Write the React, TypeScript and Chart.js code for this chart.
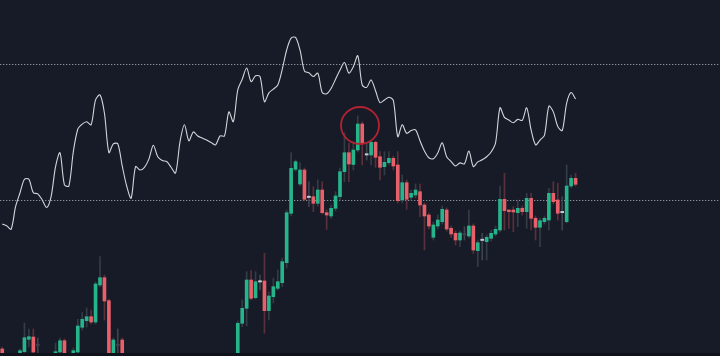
import React, { useEffect, useRef } from "react";
import { Chart, registerables } from "chart.js";

Chart.register(...registerables);

// Candles (price) — index 0..129
const OPEN = [
  26510, 26420, 26340, 26360, 26420, 26483, 26607, 26630, 26545, 26420,
  26320, 26250, 26420, 26480, 26593, 26420, 26340, 26480, 26727, 26793,
  26833, 26780, 27150, 27223, 26993, 26380, 26545, 26600, 26300, 26200,
  26080, 26160, 26020, 25900, 26000, 25820, 25750, 25880, 25720, 25640,
  25800, 25900, 25780, 25960, 26040, 25920, 26080, 26160, 26060, 26220,
  26280, 26200, 26320, 26300, 26767, 26917, 27200, 27023, 27180, 27190,
  26893, 27033, 27117, 27173, 27373, 27867, 28307, 28160, 28300, 28025,
  28033, 27967, 28100, 27873, 27840, 27917, 28033, 28283, 28473, 28355,
  28500, 28760, 28450, 28450, 28577, 28433, 28333, 28373, 28417, 28350,
  28000, 28173, 28027, 28050, 28083, 27950, 27850, 27627, 27740, 27783,
  27900, 27717, 27667, 27600, 27650, 27640, 27740, 27493, 27595, 27583,
  27617, 27660, 27700, 28007, 27900, 27900, 27873, 27917, 27883, 28017,
  27817, 27727, 27783, 27800, 28067, 28000, 27873, 27783, 28140, 28217,
];
const HIGH = [
  26530, 26440, 26420, 26435, 26510, 26770, 26710, 26710, 26620, 26450,
  26340, 26430, 26570, 26620, 26610, 26430, 26520, 26807, 26873, 26920,
  26900, 27180, 27433, 27250, 27010, 26620, 26710, 26620, 26330, 26230,
  26190, 26190, 26040, 26030, 26030, 25840, 25900, 25900, 25740, 25820,
  25930, 25920, 25980, 26070, 26060, 26100, 26190, 26180, 26240, 26310,
  26300, 26340, 26350, 26790, 27000, 27283, 27293, 27283, 27250, 27467,
  27080, 27220, 27300, 27420, 27900, 28473, 28400, 28373, 28320, 28183,
  28133, 28200, 28183, 27900, 27950, 28083, 28320, 28673, 28567, 28583,
  28840, 28783, 28570, 28600, 28590, 28483, 28483, 28483, 28440, 28483,
  28250, 28200, 28100, 28160, 28160, 27970, 27870, 27780, 27850, 27940,
  27920, 27740, 27690, 27690, 27733, 27900, 27760, 27600, 27667, 27650,
  27700, 27740, 28140, 28267, 27900, 27933, 28000, 27940, 28067, 28067,
  27840, 27820, 27840, 28117, 28183, 28167, 28033, 28350, 28250, 28267,
];
const LOW = [
  26420, 26320, 26310, 26330, 26380, 26450, 26530, 26400, 26420, 26280,
  26220, 26220, 26380, 26440, 26380, 26300, 26300, 26450, 26700, 26730,
  26760, 26760, 27130, 26800, 26340, 26340, 26420, 26260, 26170, 26050,
  26050, 25990, 25870, 25880, 25790, 25720, 25730, 25690, 25610, 25620,
  25780, 25760, 25750, 25940, 25900, 25890, 26060, 26040, 26030, 26200,
  26180, 26170, 26270, 26280, 26733, 26740, 27000, 27010, 27100, 26667,
  26800, 26970, 27100, 27133, 27320, 27840, 28290, 28140, 27990, 27933,
  27883, 27940, 27860, 27707, 27817, 27890, 28000, 28183, 28183, 28300,
  28480, 28350, 28400, 28350, 28327, 28200, 28250, 28350, 28300, 27970,
  27970, 27907, 28000, 28020, 27833, 27500, 27710, 27600, 27710, 27760,
  27690, 27627, 27550, 27533, 27600, 27620, 27467, 27333, 27400, 27400,
  27590, 27640, 27680, 27700, 27717, 27683, 27733, 27850, 27717, 27700,
  27600, 27533, 27760, 27700, 27960, 27800, 27700, 27770, 28120, 28140,
];
const CLOSE = [
  26470, 26360, 26400, 26430, 26493, 26623, 26633, 26480, 26545, 26320,
  26250, 26420, 26483, 26593, 26420, 26340, 26493, 26740, 26807, 26833,
  26780, 27160, 27223, 26990, 26380, 26600, 26545, 26300, 26200, 26080,
  26160, 26020, 25900, 26000, 25820, 25750, 25880, 25720, 25640, 25800,
  25900, 25780, 25960, 26040, 25920, 26080, 26160, 26060, 26220, 26280,
  26200, 26320, 26300, 26767, 26917, 27200, 27017, 27183, 27180, 26893,
  27040, 27133, 27183, 27383, 27873, 28317, 28383, 28300, 28007, 28025,
  27967, 28100, 27873, 27850, 27917, 28040, 28283, 28473, 28360, 28500,
  28760, 28567, 28450, 28577, 28427, 28327, 28377, 28417, 28340, 27993,
  28173, 28007, 28067, 28100, 27950, 27840, 27740, 27750, 27800, 27907,
  27710, 27660, 27600, 27670, 27650, 27740, 27500, 27573, 27595, 27627,
  27667, 27707, 28007, 27893, 27883, 27880, 27917, 27883, 28017, 27817,
  27727, 27793, 27817, 28067, 27983, 27867, 27873, 28140, 28217, 28157,
];

// Oscillator line (RSI-like)
const RSI = [
  22.9, 22.4, 21.4, 28.0, 32.1, 36.1, 36.1, 32.1, 31.8, 30.0,
  27.8, 31.0, 39.8, 43.9, 34.4, 34.1, 44.2, 50.8, 52.3, 53.0,
  52.1, 59.4, 60.9, 55.5, 43.9, 46.5, 46.5, 40.0, 34.1, 30.5,
  39.8, 38.8, 39.6, 42.0, 46.1, 42.7, 41.6, 41.3, 39.6, 37.9,
  47.1, 52.1, 47.4, 50.0, 48.8, 48.2, 47.6, 46.9, 46.2, 48.8,
  48.8, 55.9, 53.0, 62.4, 65.5, 68.8, 64.8, 66.5, 66.3, 58.9,
  61.5, 62.6, 63.8, 68.4, 74.1, 77.6, 77.8, 74.1, 67.9, 67.4,
  66.3, 67.3, 61.6, 61.2, 62.8, 65.5, 68.2, 70.4, 67.3, 69.2,
  72.4, 63.8, 63.1, 65.3, 62.1, 58.6, 59.4, 60.2, 59.3, 48.6,
  52.1, 49.6, 50.4, 50.6, 47.4, 44.4, 42.4, 42.1, 43.8, 46.8,
  42.7, 41.3, 40.0, 40.9, 40.6, 44.4, 39.8, 41.2, 41.8, 42.7,
  44.1, 46.8, 57.1, 54.3, 53.5, 52.7, 53.7, 53.4, 57.1, 50.6,
  46.2, 47.6, 49.0, 57.6, 55.9, 51.6, 50.4, 58.5, 61.6, 59.7,
];

// candles whose doji body is dark (only the wick shows)
const DARK_DOJI = [8, 26, 104];

const RSI_LEVELS = [70, 30];
const SLOT_COUNT = 162; // visible time slots (right side is empty space)
const LABELS = Array.from({ length: SLOT_COUNT }, (_, i) => String(i + 1));
const MARK_INDEX = 80.5;
const MARK_PRICE = 28745;

const PRICE_MIN = 26440;
const PRICE_MAX = 30000;
const RSI_MIN = -15.9;
const RSI_MAX = 88.8;

const BG = "#171b27";
const UP = "#26b58b";
const DOWN = "#e8606a";
const DOJI = "#c9ccd2";

function candleColor(i: number) {
  if (CLOSE[i] > OPEN[i]) return UP;
  if (CLOSE[i] < OPEN[i]) return DOWN;
  return DARK_DOJI.includes(i) ? "#3e434e" : DOJI;
}
function wickColor(i: number) {
  if (CLOSE[i] > OPEN[i]) return "#333d46";
  if (CLOSE[i] < OPEN[i]) return "#5c3039";
  return "#3e434e";
}

const decorPlugin = {
  id: "decor",
  beforeDraw(chart: any) {
    const { ctx, width, height } = chart;
    ctx.save();
    ctx.fillStyle = BG;
    ctx.fillRect(0, 0, width, height);
    ctx.restore();
  },
  beforeDatasetsDraw(chart: any) {
    const { ctx, chartArea } = chart;
    const rs = chart.scales.rsi;
    ctx.save();
    ctx.strokeStyle = "#8d939d";
    ctx.lineWidth = 1;
    ctx.setLineDash([1.3, 1.7]);
    RSI_LEVELS.forEach((lv) => {
      const y = Math.round(rs.getPixelForValue(lv)) + 0.5;
      ctx.beginPath();
      ctx.moveTo(chartArea.left, y);
      ctx.lineTo(chartArea.right, y);
      ctx.stroke();
    });
    ctx.restore();
  },
  afterDatasetsDraw(chart: any) {
    const { ctx, width, height } = chart;
    const x = chart.scales.x.getPixelForValue(MARK_INDEX);
    const y = chart.scales.y.getPixelForValue(MARK_PRICE);
    ctx.save();
    ctx.strokeStyle = "#b02331";
    ctx.lineWidth = 1.8;
    ctx.beginPath();
    ctx.ellipse(x, y, 19, 18.5, 0, 0, Math.PI * 2);
    ctx.stroke();
    // dark frame edge at the very bottom
    ctx.fillStyle = "#0f121a";
    ctx.fillRect(0, height - 3, width, 3);
    ctx.restore();
  },
};

export default function App() {
  const ref = useRef<HTMLCanvasElement | null>(null);
  useEffect(() => {
    document.body.style.margin = "0";
    document.body.style.background = BG;
    const canvas = ref.current;
    if (!canvas) return;
    const chart = new Chart(canvas, {
      type: "bar",
      data: {
        labels: LABELS,
        datasets: [
          {
            type: "line",
            data: RSI,
            yAxisID: "rsi",
            borderColor: "#d2d5da",
            borderWidth: 1.1,
            pointRadius: 0,
            tension: 0.3,
            order: 0,
          } as any,
          {
            type: "bar",
            data: OPEN.map((o, i) => [o, CLOSE[i]]),
            yAxisID: "y",
            backgroundColor: OPEN.map((_, i) => candleColor(i)),
            barThickness: 3,
            minBarLength: 1.3,
            grouped: false,
            borderWidth: 0,
            order: 1,
          } as any,
          {
            type: "bar",
            data: LOW.map((l, i) => [l, HIGH[i]]),
            yAxisID: "y",
            backgroundColor: OPEN.map((_, i) => wickColor(i)),
            barThickness: 1,
            grouped: false,
            borderWidth: 0,
            order: 2,
          } as any,
        ],
      },
      options: {
        animation: false,
        responsive: false,
        devicePixelRatio: 1,
        layout: { padding: 0 },
        plugins: {
          legend: { display: false },
          tooltip: { enabled: false },
        },
        events: [],
        scales: {
          x: { display: false, offset: true, grid: { display: false } },
          y: { display: false, min: PRICE_MIN, max: PRICE_MAX },
          rsi: { display: false, min: RSI_MIN, max: RSI_MAX, position: "right" },
        },
      } as any,
      plugins: [decorPlugin],
    });
    return () => chart.destroy();
  }, []);
  return (
    <div style={{ width: 720, height: 356, position: "relative" }}>
      <canvas ref={ref} width={720} height={356} style={{ display: "block", width: 720, height: 356 }} />
    </div>
  );
}
